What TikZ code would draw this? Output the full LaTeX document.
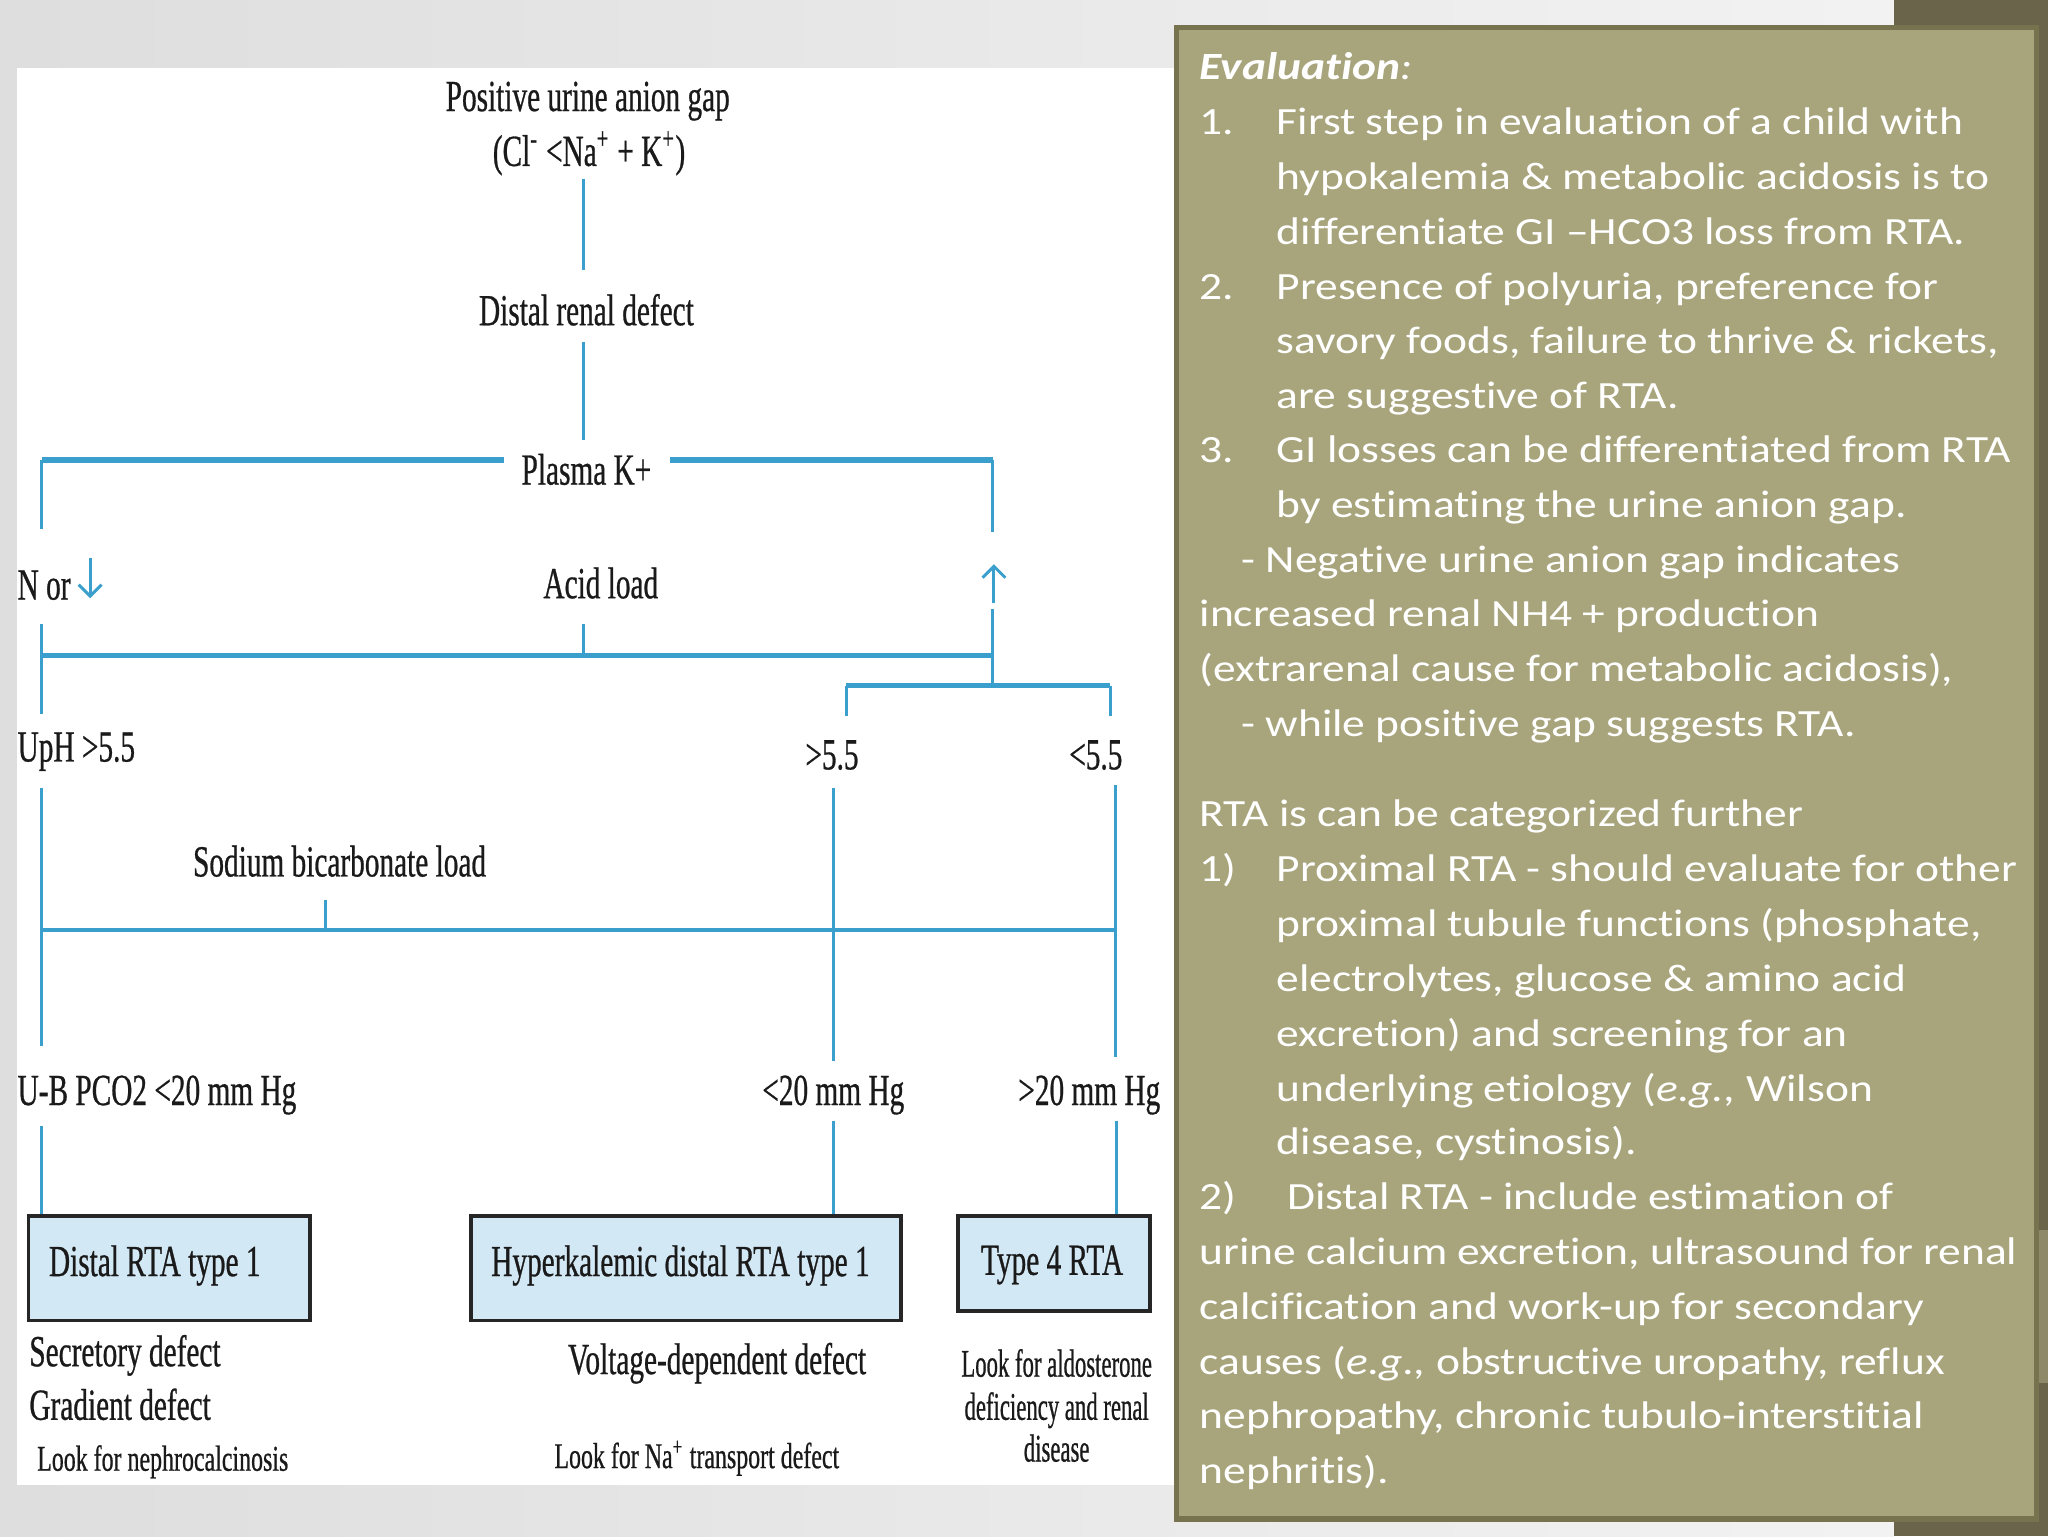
\documentclass[tikz,border=0pt]{standalone}
\usepackage{fontspec}
\setmainfont{Carlito}
\newfontfamily\pfont[FakeStretch=1.18,Ligatures=NoCommon]{Carlito}
\newfontfamily\dfont[FakeStretch=0.66,FakeBold=0.6]{Liberation Serif}
\newfontfamily\dfontn[FakeStretch=0.58,FakeBold=0.6]{Liberation Serif}
\usetikzlibrary{arrows.meta}
\definecolor{lineblue}{HTML}{3A9FCC}
\definecolor{boxblue}{HTML}{D3E8F5}
\definecolor{olivefill}{HTML}{A8A57D}
\definecolor{olivedark}{HTML}{77734F}
\definecolor{bandcol}{HTML}{6A644A}
\definecolor{bandlight}{HTML}{8E8A69}
\definecolor{ink}{HTML}{1A1A1A}
\begin{document}
\begin{tikzpicture}[x=0.4pt,y=-0.4pt,
  lab/.style={inner sep=0pt, anchor=base west, text=ink, font=\dfont\fontsize{13.6}{15}\selectfont},
  labc/.style={lab, anchor=base},
  labs/.style={inner sep=0pt, anchor=base west, text=ink, font=\dfont\fontsize{11.1}{13}\selectfont},
  labsc/.style={labs, anchor=base},
  labn/.style={inner sep=0pt, anchor=base, text=ink, font=\dfontn\fontsize{12}{13}\selectfont},
  conn/.style={draw=lineblue, line width=0.85pt},
  hconn/.style={draw=lineblue, line width=1.4pt},
  tip/.style={draw=lineblue, line width=0.9pt, -{Straight Barb[length=3.5pt,width=7pt]}},
  rtabox/.style={draw=black!85, line width=1.2pt, fill=boxblue, inner sep=0pt},
  ptxt/.style={inner sep=0pt, anchor=base west, text=white, font=\pfont\fontsize{11.8}{14}\selectfont},
]
\useasboundingbox (0,0) rectangle (1568,1176);
% slide background
\shade[left color=black!13, middle color=white, right color=black!5] (0,0) rectangle (1450,1176);
\fill[bandcol] (1450,0) rectangle (1568,1176);
\fill[bandlight] (1561,942) rectangle (1568,1059);
% diagram image area
\fill[white] (13,52) rectangle (900,1137);
% right panel
\filldraw[fill=olivefill, draw=olivedark, line width=1.6pt] (901,21) rectangle (1559,1163);

% ---------- diagram labels ----------
\node[labc] (pos) at (450,85) {Positive urine anion gap};
\node[labc] (cl) at (451,127) {(Cl\textsuperscript{-} <Na\textsuperscript{+} + K\textsuperscript{+})};
\node[labc] (drd) at (449,249) {Distal renal defect};
\node[labc] (pk) at (449,371) {Plasma K+};
\node[lab] (nor) at (13,459) {N or};
\node[labc] (acid) at (460,458) {Acid load};
\node[lab] (uph) at (13,583) {UpH >5.5};
\node[labc] (gt55) at (637,589) {>5.5};
\node[labc] (lt55) at (839,589) {<5.5};
\node[labc] (sod) at (260,671) {Sodium bicarbonate load};
\node[lab] (ubp) at (13,846) {U-B PCO2 <20 mm Hg};
\node[labc] (lt20) at (638,846) {<20 mm Hg};
\node[labc] (gt20) at (834,846) {>20 mm Hg};

% boxes
\node[rtabox, minimum width=86.2pt, minimum height=32pt] (b1) at (129.6,971) {};
\node[rtabox, minimum width=131.7pt, minimum height=32pt] (b2) at (525.3,971) {};
\node[rtabox, minimum width=58.7pt, minimum height=29.2pt] (b3) at (807,967.5) {};
\node[labc] (t1) at (118.5,977) {Distal RTA type 1};
\node[labc] (t2) at (521,977) {Hyperkalemic distal RTA type 1};
\node[labc] (t3) at (805.5,976) {Type 4 RTA};

% under-box texts
\node[lab] (sec) at (22,1046) {Secretory defect};
\node[lab] (gra) at (22,1087) {Gradient defect};
\node[labs] (nep) at (28,1126) {Look for nephrocalcinosis};
\node[labc] (vol) at (549,1052) {Voltage-dependent defect};
\node[labsc] (nat) at (533.5,1124) {Look for Na\textsuperscript{+} transport defect};
\node[labn] (ald1) at (809,1054) {Look for aldosterone};
\node[labn] (ald2) at (809,1087) {deficiency and renal};
\node[labn] (ald3) at (809,1119) {disease};

% ---------- connector coordinates ----------
\coordinate (c1) at (447,137); \coordinate (c2) at (447,207);
\coordinate (c3) at (447,262); \coordinate (c4) at (447,337);
\coordinate (plL) at (32,352); \coordinate (plLi) at (386,352);
\coordinate (plRi) at (513,352); \coordinate (plR) at (760,352);
\coordinate (plLd) at (32,405); \coordinate (plRd) at (760,407);
\coordinate (dnA) at (69,427); \coordinate (dnB) at (69,458);
\coordinate (upA) at (761,462); \coordinate (upB) at (761,432);
\coordinate (acL) at (32,478); \coordinate (acLd) at (32,547);
\coordinate (acH1) at (32,502); \coordinate (acH2) at (760,502);
\coordinate (acT) at (447,478); \coordinate (acTb) at (447,502);
\coordinate (acR) at (760,466); \coordinate (brM) at (760,525);
\coordinate (brL) at (648,525); \coordinate (brR) at (850,525);
\coordinate (brLd) at (648,548); \coordinate (brRd) at (850,548);
\coordinate (s1) at (32,603); \coordinate (s1d) at (32,801);
\coordinate (sh1) at (32,712); \coordinate (sh2) at (854,712);
\coordinate (st) at (249,689); \coordinate (stb) at (249,712);
\coordinate (s2) at (638,603); \coordinate (s2d) at (638,812);
\coordinate (s3) at (854,601); \coordinate (s3d) at (854,809);
\coordinate (p1) at (32,862); \coordinate (p2) at (638,858); \coordinate (p3) at (855,858);

% ---------- connectors ----------
\draw[conn] (c1) -- (c2);
\draw[conn] (c3) -- (c4);
\draw[hconn, line width=1.7pt] (plL) -- (plLi);
\draw[hconn, line width=1.7pt] (plRi) -- (plR);
\draw[conn] (plL) -- (plLd);
\draw[conn] (plR) -- (plRd);
\draw[tip] (dnA) -- (dnB);
\draw[tip] (upA) -- (upB);
\draw[conn] (acL) -- (acLd);
\draw[hconn] (acH1) -- (acH2);
\draw[conn] (acT) -- (acTb);
\draw[conn] (acR) -- (brM);
\draw[hconn] (brL) -- (brR);
\draw[conn] (brL) -- (brLd);
\draw[conn] (brR) -- (brRd);
\draw[conn] (s1) -- (s1d);
\draw[hconn] (sh1) -- (sh2);
\draw[conn] (st) -- (stb);
\draw[conn] (s2) -- (s2d);
\draw[conn] (s3) -- (s3d);
\draw[conn] (p1) -- (p1 |- b1.north);
\draw[conn] (p2) -- (p2 |- b2.north);
\draw[conn] (p3) -- (p3 |- b3.north);

% ---------- panel text ----------
\node[ptxt] (e0) at (918,61) {\textbf{\textit{Evaluation}}\textit{:}};
\node[ptxt] (n1) at (918,103) {1.};
\node[ptxt] (e1) at (977,103) {First step in evaluation of a child with};
\node[ptxt] (e2) at (977,145) {hypokalemia \& metabolic acidosis is to};
\node[ptxt] (e3) at (977,187) {differentiate GI –HCO3 loss from RTA.};
\node[ptxt] (n2) at (918,229) {2.};
\node[ptxt] (e4) at (977,229) {Presence of polyuria, preference for};
\node[ptxt] (e5) at (977,271) {savory foods, failure to thrive \& rickets,};
\node[ptxt] (e6) at (977,313) {are suggestive of RTA.};
\node[ptxt] (n3) at (918,354) {3.};
\node[ptxt] (e7) at (977,354) {GI losses can be differentiated from RTA};
\node[ptxt] (e8) at (977,396) {by estimating the urine anion gap.};
\node[ptxt] (e9) at (950,438) {- Negative urine anion gap indicates};
\node[ptxt] (e10) at (918,480) {increased renal NH4 + production};
\node[ptxt] (e11) at (918,522) {(extrarenal cause for metabolic acidosis),};
\node[ptxt] (e12) at (950,564) {- while positive gap suggests RTA.};
\node[ptxt] (r0) at (918,633) {RTA is can be categorized further};
\node[ptxt] (m1) at (918,675) {1)};
\node[ptxt] (r1) at (977,675) {Proximal RTA - should evaluate for other};
\node[ptxt] (r2) at (977,717) {proximal tubule functions (phosphate,};
\node[ptxt] (r3) at (977,759) {electrolytes, glucose \& amino acid};
\node[ptxt] (r4) at (977,801) {excretion) and screening for an};
\node[ptxt] (r5) at (977,843) {underlying etiology (\textit{e.g.,} Wilson};
\node[ptxt] (r6) at (977,884) {disease, cystinosis).};
\node[ptxt] (m2) at (918,926) {2)};
\node[ptxt] (r7) at (985,926) {Distal RTA - include estimation of};
\node[ptxt] (r8) at (918,968) {urine calcium excretion, ultrasound for renal};
\node[ptxt] (r9) at (918,1010) {calcification and work-up for secondary};
\node[ptxt] (r10) at (918,1052) {causes (\textit{e.g.,} obstructive uropathy, reflux};
\node[ptxt] (r11) at (918,1094) {nephropathy, chronic tubulo-interstitial};
\node[ptxt] (r12) at (918,1136) {nephritis).};
\end{tikzpicture}
\end{document}
